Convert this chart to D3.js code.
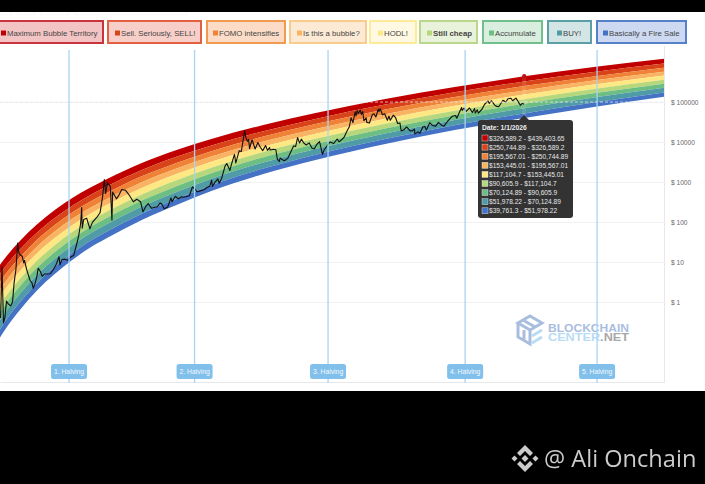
<!DOCTYPE html>
<html>
<head>
    <meta charset='utf-8' />
    <title>Bitcoin Rainbow Chart</title>
    <style>
        html, body {
          margin: 0; padding: 0;
          background: #000;
        }

        svg {
          display: block;
          font-family: 'Liberation Sans', sans-serif;
          filter: blur(0.3px);
        }
    </style>
</head>
<body>
<div id='chart'></div>

<script src="https://d3js.org/d3.v7.min.js"></script>
<script>
  const legendLabels = ['Maximum Bubble Territory', 'Sell. Seriously, SELL!', 'FOMO intensifies', 'Is this a bubble?', 'HODL!', 'Still cheap', 'Accumulate', 'BUY!', 'Basically a Fire Sale']
  const legendLeft = [-3, 107, 206, 289, 369, 419, 482, 547, 596]
  const legendRight = [104, 202, 286, 367, 417, 478, 543, 592, 687]
  const legendFill = ['#f3c4c4', '#f7cfc8', '#fcdcc6', '#fdead4', '#fff8e2', '#e9f3dc', '#d9eede', '#d4e5e6', '#cdd9f1']
  const legendBorder = ['#c9343c', '#e0603f', '#f29a4f', '#f9cc8c', '#fdeb98', '#b9d88c', '#6fc08a', '#5a9ea6', '#5580cc']
  const bandColors = ['#c00000', '#d8431a', '#ef8236', '#f8b363', '#fde883', '#b6d77c', '#6dbe83', '#4f9ca6', '#4472c4']

  // band edges in dollars, cheapest edge first
  const edgeDates = ['2010-12-01', '2011-03-01', '2011-07-01', '2012-01-01', '2012-07-01', '2013-01-01', '2013-07-01', '2014-01-01', '2015-01-01', '2016-01-01', '2017-01-01', '2018-07-01', '2020-01-01', '2022-01-01', '2024-01-01', '2026-01-01', '2028-01-01', '2030-02-01']
  const edge0 = [0.126, 0.266, 0.631, 2.0, 5.01, 11.2, 22.4, 39.8, 112, 266, 596, 1580, 3550, 8910, 20000, 39761.3, 75000, 138000]
  const edge1 = [0.201, 0.421, 0.984, 3.05, 7.57, 16.7, 33.0, 58.2, 162, 379, 834, 2170, 4810, 11900, 26300, 51978.22, 97000, 176000]
  const edge2 = [0.34, 0.698, 1.61, 4.89, 12.0, 26.1, 50.6, 88.7, 243, 562, 1210, 3080, 6710, 16400, 35800, 70124.89, 129000, 231000]
  const edge3 = [0.532, 1.08, 2.47, 7.35, 17.7, 38.2, 73.3, 128, 346, 789, 1660, 4170, 8970, 21700, 46700, 90605.9, 165000, 291000]
  const edge4 = [0.834, 1.67, 3.77, 11.0, 26.3, 56.0, 106, 184, 491, 1110, 2290, 5640, 12000, 28600, 60800, 117104.7, 211000, 367000]
  const edge5 = [1.34, 2.65, 5.87, 16.9, 39.7, 83.4, 156, 269, 710, 1580, 3210, 7730, 16200, 38200, 80200, 153445.01, 274000, 469000]
  const edge6 = [2.04, 4.0, 8.79, 24.8, 57.7, 120, 221, 378, 989, 2170, 4340, 10300, 21300, 49700, 103000, 195567.01, 345000, 585000]
  const edge7 = [3.15, 6.1, 13.2, 36.6, 84.3, 173, 316, 537, 1390, 3010, 5900, 13700, 28200, 64900, 133000, 250744.89, 438000, 731000]
  const edge8 = [5.0, 9.55, 20.5, 55.6, 126, 256, 461, 780, 1990, 4270, 8200, 18700, 37900, 86300, 175000, 326589.2, 564000, 929000]
  const edge9 = [8.41, 15.8, 33.5, 89.1, 200, 398, 708, 1190, 2990, 6310, 11900, 26600, 53100, 119000, 237000, 439403.65, 750000, 1220000]
  const edges = [edge0, edge1, edge2, edge3, edge4, edge5, edge6, edge7, edge8, edge9]

  const priceDates = [
    '2010-12-10', '2010-12-25', '2011-01-10', '2011-01-25', '2011-02-10', '2011-03-01', '2011-03-25', '2011-04-15', '2011-05-01', '2011-05-20', '2011-06-08', '2011-06-20', '2011-07-05', '2011-07-25', '2011-08-10', '2011-08-18', '2011-09-10', '2011-09-25', '2011-10-15', '2011-11-05', '2011-11-18', '2011-12-05', '2011-12-25',
    '2012-01-10', '2012-02-01', '2012-02-20', '2012-03-15', '2012-04-15', '2012-05-15', '2012-06-15', '2012-07-15', '2012-08-15', '2012-08-25', '2012-09-15', '2012-10-15', '2012-11-15', '2012-12-15',
    '2013-01-15', '2013-02-15', '2013-03-10', '2013-03-30', '2013-04-10', '2013-04-16', '2013-05-01', '2013-06-01', '2013-07-05', '2013-08-01', '2013-09-15', '2013-10-20', '2013-11-15', '2013-12-04', '2013-12-18',
    '2014-01-05', '2014-02-05', '2014-02-22', '2014-03-01', '2014-04-10', '2014-05-01', '2014-06-05', '2014-07-15', '2014-08-15', '2014-10-05', '2014-11-10', '2014-12-20',
    '2015-01-14', '2015-02-15', '2015-03-10', '2015-03-30', '2015-04-15', '2015-05-20', '2015-06-15', '2015-07-12', '2015-07-28', '2015-08-25', '2015-10-01', '2015-11-04', '2015-11-15', '2015-12-20',
    '2016-01-20', '2016-02-25', '2016-03-15', '2016-05-15', '2016-06-16', '2016-07-15', '2016-08-05', '2016-09-15', '2016-10-15', '2016-11-20', '2016-12-15',
    '2017-01-04', '2017-01-12', '2017-02-10', '2017-03-10', '2017-03-25', '2017-04-20', '2017-05-25', '2017-06-12', '2017-06-28', '2017-07-15', '2017-08-01', '2017-09-01', '2017-09-15', '2017-10-20', '2017-11-12', '2017-12-17', '2017-12-30',
    '2018-01-16', '2018-01-28', '2018-02-06', '2018-03-05', '2018-04-06', '2018-05-05', '2018-05-30', '2018-06-25', '2018-07-25', '2018-08-14', '2018-09-05', '2018-09-10', '2018-10-15', '2018-11-10', '2018-11-25', '2018-12-15', '2018-12-25',
    '2019-01-15', '2019-02-07', '2019-03-15', '2019-04-05', '2019-05-15', '2019-06-05', '2019-06-26', '2019-07-16', '2019-08-05', '2019-08-28', '2019-09-25', '2019-10-26', '2019-11-25', '2019-12-18',
    '2020-01-15', '2020-02-12', '2020-03-13', '2020-04-01', '2020-05-10', '2020-06-01', '2020-07-10', '2020-08-15', '2020-09-05', '2020-10-25', '2020-11-25', '2020-12-20',
    '2021-01-08', '2021-01-27', '2021-02-20', '2021-02-28', '2021-03-13', '2021-03-25', '2021-04-14', '2021-04-25', '2021-05-10', '2021-05-23', '2021-06-15', '2021-06-22', '2021-07-20', '2021-08-20', '2021-09-05', '2021-09-25', '2021-10-20', '2021-10-28', '2021-11-10', '2021-12-04', '2021-12-27',
    '2022-01-24', '2022-02-10', '2022-02-24', '2022-03-28', '2022-04-20', '2022-05-12', '2022-06-05', '2022-06-18', '2022-07-13', '2022-08-15', '2022-09-20', '2022-10-15', '2022-11-05', '2022-11-09', '2022-12-14',
    '2023-01-01', '2023-01-30', '2023-02-20', '2023-03-10', '2023-04-14', '2023-05-12', '2023-06-15', '2023-07-15', '2023-08-18', '2023-09-11', '2023-10-25', '2023-12-05',
    '2024-01-10', '2024-01-23', '2024-03-14', '2024-03-20', '2024-04-08', '2024-05-01', '2024-06-05', '2024-07-05', '2024-07-28', '2024-08-05', '2024-08-25', '2024-09-06', '2024-10-14', '2024-11-11', '2024-12-17', '2024-12-30',
    '2025-01-20', '2025-02-25', '2025-03-10', '2025-04-08', '2025-05-22', '2025-06-22', '2025-07-14', '2025-08-14', '2025-09-01', '2025-10-06', '2025-11-21', '2025-12-10', '2025-12-31'
  ]
  const priceValues = [
    0.4, 7.5, 0.3, 0.42, 1.05, 0.9, 0.8, 1.0, 3, 6.5, 30, 17, 15, 14, 9.5, 11, 6.5, 5, 3.5, 3.0, 2.2, 2.8, 4.2,
    7, 5.8, 4.4, 5, 5, 5.1, 6.4, 8.5, 13.5, 8.5, 11.5, 11.8, 11, 13.3,
    14.5, 27, 46, 92, 230, 70, 115, 125, 68, 98, 130, 170, 420, 1150, 520,
    950, 780, 111, 560, 380, 450, 650, 620, 500, 320, 370, 320,
    180, 250, 290, 245, 220, 235, 240, 300, 285, 215, 238, 400, 320, 440,
    380, 430, 415, 455, 750, 660, 570, 610, 640, 740, 780,
    1120, 780, 1000, 1200, 930, 1250, 2500, 2900, 2400, 1950, 2800, 4900, 3000, 6000, 5800, 19500, 12800,
    10500, 11600, 6900, 11400, 6700, 9700, 7400, 6100, 8200, 6200, 7300, 6300, 6600, 6400, 3800, 3250, 4000,
    3650, 3400, 3900, 5000, 8000, 7700, 12900, 9500, 11800, 9600, 8400, 9500, 7000, 6700,
    8800, 10300, 4900, 6400, 8700, 10000, 9200, 11900, 10100, 13000, 18500, 24000,
    40500, 30500, 57000, 45000, 61000, 52000, 63500, 49000, 58000, 34000, 40000, 31000, 30000, 49000, 51000, 42000, 66000, 58000, 68000, 48000, 51000,
    35000, 44000, 35000, 47000, 41000, 29000, 30000, 19000, 20000, 24000, 19000, 19200, 21000, 16000, 18000,
    16500, 23500, 24800, 20000, 30500, 26000, 25000, 31000, 26000, 25000, 34500, 44000,
    46000, 39500, 73000, 62000, 71000, 58000, 71000, 55000, 69000, 53000, 64000, 53000, 66000, 88000, 106000, 92000,
    108000, 84000, 79000, 76000, 111000, 100000, 121000, 124000, 108000, 125000, 83000, 93000, 88000
  ]

  const halvingLabels = ['1. Halving', '2. Halving', '3. Halving', '4. Halving', '5. Halving']
  const halvingDates = ['2012-11-28', '2016-07-09', '2020-05-11', '2024-04-20', '2028-02-05']
  const yTicks = [1, 10, 100, 1000, 10000, 100000]
  const hoverDate = '2026-01-01'
  const hoverEdges = [39761.3, 51978.22, 70124.89, 90605.9, 117104.7, 153445.01, 195567.01, 250744.89, 326589.2, 439403.65]

  const parse = d3.utcParse('%Y-%m-%d')
  const svg = d3.select('#chart').append('svg')
    .attr('width', 705)
    .attr('height', 484)

  svg.append('rect').attr('y', 12).attr('width', 705).attr('height', 379).attr('fill', '#fff')

  // leftovers of the page header above the legend
  svg.selectAll('.stub')
    .data([[-2, 13.5], [17, 17.5], [40, 29], [75, 112]])
    .enter().append('rect')
    .attr('x', d => d[0]).attr('y', 9).attr('width', d => d[1]).attr('height', 6)
    .attr('fill', 'none').attr('stroke', '#eee').attr('stroke-width', 0.7)
    .attr('clip-path', 'inset(3px 0 0 0)')
  svg.append('rect').attr('width', 705).attr('height', 12).attr('fill', '#000')

  const x = d3.scaleUtc().domain([parse('2010-12-04'), parse('2030-01-08')]).range([0, 664])
  const y = d3.scaleLog().domain([0.01, 2e6]).range([382, 50])

  svg.append('defs').append('clipPath').attr('id', 'plot')
    .append('rect').attr('x', 0).attr('y', 46).attr('width', 664).attr('height', 336)

  // grid + y labels
  const axis = svg.append('g')
    .attr('transform', 'translate(664,0)')
    .call(d3.axisRight(y).tickValues(yTicks).tickSize(-664).tickPadding(7).tickFormat(d => '$ ' + d))
  axis.select('.domain').remove()
  axis.selectAll('line').attr('stroke', '#f1f1f1')
  axis.selectAll('text').attr('fill', '#666').attr('font-size', 6.6)

  svg.append('path').attr('d', 'M0.5,382.5H664.5V46').attr('fill', 'none').attr('stroke', '#e8e8e8')

  // watermark sits under the halving lines
  const mark = svg.append('g').attr('transform', 'translate(518,316)')
  mark.append('path')
    .attr('d', 'M12,0 L24,7 L12,14 L0,7 Z M0,7 L0,21 L12,28 L12,14 M12,14 L24,7 M5,4 L17,11 M6,14 L6,24')
    .attr('fill', 'none').attr('stroke', '#a9bedf').attr('stroke-width', 3)
  mark.append('path')
    .attr('d', 'M14,27 L24,21 M14,20 L24,14')
    .attr('fill', 'none').attr('stroke', '#b9dcf4').attr('stroke-width', 3)
  svg.append('text').attr('x', 548).attr('y', 331.5).attr('font-size', 11.4).attr('font-weight', 700)
    .attr('fill', '#a9bedf').attr('textLength', 81).attr('lengthAdjust', 'spacingAndGlyphs').text('BLOCKCHAIN')
  const netText = svg.append('text').attr('x', 548).attr('y', 341).attr('font-size', 11.4).attr('font-weight', 700)
    .attr('textLength', 81).attr('lengthAdjust', 'spacingAndGlyphs')
  netText.append('tspan').attr('fill', '#b9dcf4').text('CENTER')
  netText.append('tspan').attr('fill', '#a8a8a8').text('.NET')

  // rainbow, top band first
  const bands = svg.append('g').attr('clip-path', 'url(#plot)')
  bandColors.forEach((color, i) => {
    const lower = edges[8 - i]
    const upper = edges[9 - i]
    const area = d3.area()
      .x(d => x(parse(d)))
      .y0((d, j) => y(lower[j]))
      .y1((d, j) => y(upper[j]))
      .curve(d3.curveMonotoneX)
    bands.append('path').attr('d', area(edgeDates)).attr('fill', color)
  })

  // $100000 line is dashed and stays visible on top of the bands
  svg.append('line')
    .attr('x1', 0).attr('x2', 664)
    .attr('y1', y(100000)).attr('y2', y(100000))
    .attr('stroke', '#e9e9f2').attr('stroke-opacity', 0.75).attr('stroke-dasharray', '3,2')

  // hover column
  const hx = x(parse(hoverDate))
  svg.append('rect').attr('x', hx - 2).attr('width', 4)
    .attr('y', y(hoverEdges[9])).attr('height', y(hoverEdges[0]) - y(hoverEdges[9]))
    .attr('fill', '#fff').attr('fill-opacity', 0.1)
  svg.append('circle').attr('cx', hx).attr('cy', y(hoverEdges[9])).attr('r', 2.2).attr('fill', '#b81414')

  // price
  const line = d3.line()
    .x(d => x(parse(d)))
    .y((d, i) => y(priceValues[i]))
  bands.append('path').attr('d', line(priceDates))
    .attr('fill', 'none').attr('stroke', '#111').attr('stroke-width', 1.1).attr('stroke-linejoin', 'round')

  // halvings
  const halving = svg.selectAll('.halving').data(halvingDates).enter().append('g')
    .attr('transform', d => `translate(${x(parse(d))},0)`)
  halving.append('line').attr('y1', 50).attr('y2', 383).attr('stroke', '#a9d3f2').attr('stroke-width', 1.3)
  halving.append('rect').attr('x', -18).attr('y', 364).attr('width', 36).attr('height', 15).attr('rx', 2.5).attr('fill', '#82c0ec')
  halving.append('text').attr('y', 374).attr('text-anchor', 'middle').attr('font-size', 6.8).attr('fill', '#f2f8fd')
    .text((d, i) => halvingLabels[i])

  // legend
  const legend = svg.selectAll('.legend').data(legendLabels).enter().append('g')
  legend.append('rect')
    .attr('x', (d, i) => legendLeft[i] + 1).attr('y', 21)
    .attr('width', (d, i) => legendRight[i] - legendLeft[i] - 2).attr('height', 22)
    .attr('fill', (d, i) => legendFill[i])
    .attr('stroke', (d, i) => legendBorder[i]).attr('stroke-width', 2)
  const legendText = [7, 121, 219, 303, 384, 433, 495, 563, 609]
  legend.append('rect')
    .attr('x', (d, i) => legendText[i] - 6).attr('y', 30.5).attr('width', 5).attr('height', 5)
    .attr('fill', (d, i) => bandColors[i])
  legend.append('text')
    .attr('x', (d, i) => legendText[i]).attr('y', 36)
    .attr('font-size', 7.8).attr('fill', '#444')
    .attr('font-weight', d => d === 'Still cheap' ? 700 : 400)
    .text(d => d)

  // tooltip
  const tip = svg.append('g').attr('transform', 'translate(478,120)')
  tip.append('path').attr('d', 'M41,0 L46,-5 L51,0 Z').attr('fill', '#333')
  tip.append('rect').attr('width', 95).attr('height', 98).attr('rx', 3).attr('fill', '#333')
  tip.append('text').attr('x', 4).attr('y', 10).attr('font-size', 6.7).attr('font-weight', 700).attr('fill', '#eee')
    .text('Date: ' + d3.utcFormat('%-m/%-d/%Y')(parse(hoverDate)))
  const fmt = v => '$' + v.toLocaleString('en-US')
  const row = tip.selectAll('.row').data(bandColors).enter().append('g')
    .attr('transform', (d, i) => `translate(4,${15 + i * 9.1})`)
  row.append('rect').attr('width', 6).attr('height', 6).attr('fill', d => d).attr('stroke', '#eee').attr('stroke-width', 0.4)
  row.append('text').attr('x', 7).attr('y', 5.6).attr('font-size', 6.6).attr('fill', '#e8e8e8')
    .text((d, i) => fmt(hoverEdges[8 - i]) + ' - ' + fmt(hoverEdges[9 - i]))

  // credit on the black strip
  const logo = svg.append('g').attr('transform', 'translate(525,458.5)').attr('fill', '#ccc')
  logo.append('path').attr('d', 'M0,-13.5 L8,-5.5 L5,-2.5 L0,-7.5 L-5,-2.5 L-8,-5.5 Z')
  logo.append('path').attr('d', 'M0,13.5 L8,5.5 L5,2.5 L0,7.5 L-5,2.5 L-8,5.5 Z')
  logo.append('path').attr('d', 'M-13.5,0 L-10.5,-3 L-7.5,0 L-10.5,3 Z')
  logo.append('path').attr('d', 'M13.5,0 L10.5,-3 L7.5,0 L10.5,3 Z')
  logo.append('path').attr('d', 'M0,-3.5 L3.5,0 L0,3.5 L-3.5,0 Z')
  svg.append('text').attr('x', 544).attr('y', 466.5).attr('font-family', "'Open Sans', sans-serif")
    .attr('font-size', 23.6).attr('fill', '#ccc').text('@ Ali Onchain')
</script>
</body>
</html>
